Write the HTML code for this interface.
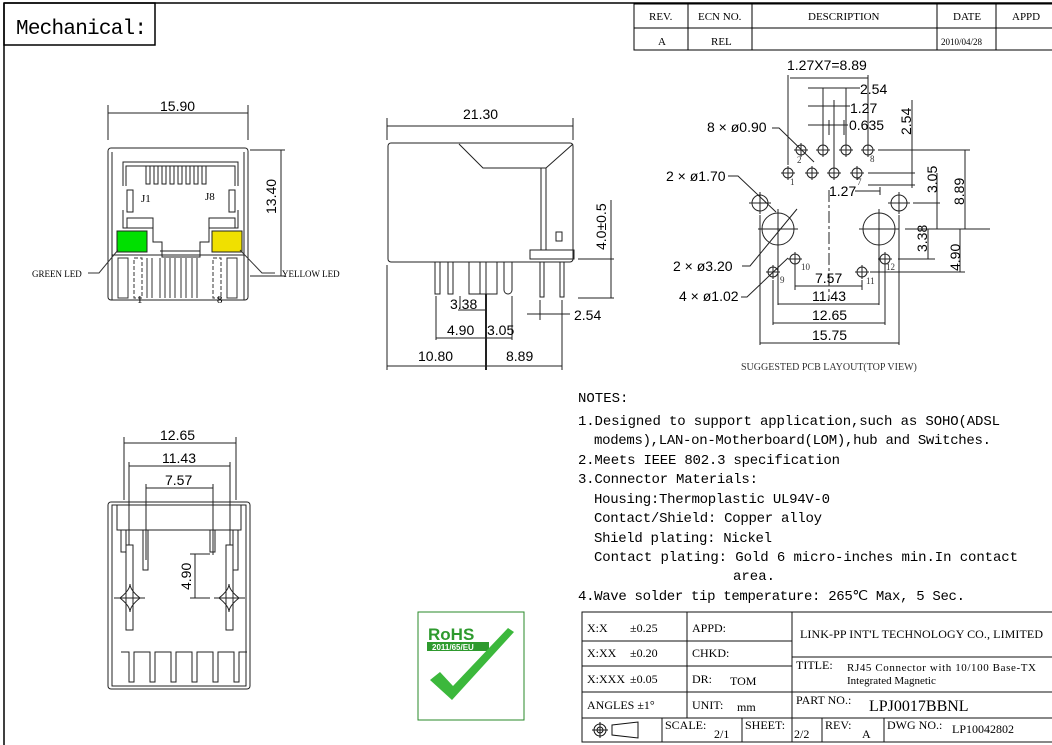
<!DOCTYPE html>
<html><head><meta charset="utf-8"><style>
body{margin:0;background:#fff;}
svg{display:block;}
</style></head><body>
<svg width="1052" height="745" viewBox="0 0 1052 745" xmlns="http://www.w3.org/2000/svg" stroke="#000" fill="none" stroke-width="1" font-family="Liberation Sans, sans-serif">
<!-- frame -->
<line x1="4" y1="3" x2="1052" y2="3" stroke-width="1.5"/>
<line x1="4" y1="3" x2="4" y2="745" stroke-width="1.5"/>
<rect x="4" y="3" width="151" height="42" stroke-width="1.5"/>
<text x="16" y="34" font-size="21" stroke="none" fill="#000" font-family="Liberation Mono, monospace" textLength="131">Mechanical:</text>
<!-- rev table -->
<rect x="634" y="4" width="420" height="46"/>
<line x1="634" y1="28" x2="1052" y2="28"/>
<line x1="688" y1="4" x2="688" y2="50"/><line x1="752" y1="4" x2="752" y2="50"/>
<line x1="937" y1="4" x2="937" y2="50"/><line x1="996" y1="4" x2="996" y2="50"/>
<g stroke="none" fill="#000" font-size="11" font-family="Liberation Serif, serif">
<text x="649" y="20">REV.</text><text x="698" y="20">ECN NO.</text><text x="808" y="20">DESCRIPTION</text><text x="953" y="20">DATE</text><text x="1012" y="20">APPD</text>
<text x="658" y="45">A</text><text x="711" y="45">REL</text><text x="941" y="45" font-size="9">2010/04/28</text>
</g>

<!-- FRONT VIEW -->
<g stroke="#222">
<line x1="108" y1="105" x2="108" y2="140"/><line x1="248" y1="105" x2="248" y2="140"/>
<line x1="108" y1="113" x2="248" y2="113"/>
<rect x="108" y="148" width="140" height="152" rx="3"/>
<line x1="112" y1="152" x2="112" y2="300"/><line x1="244" y1="152" x2="244" y2="300"/>
<line x1="250" y1="150" x2="285" y2="150"/><line x1="250" y1="276" x2="285" y2="276"/>
<line x1="281" y1="150" x2="281" y2="276"/>
<polyline points="123,186 123,162 238,162 238,186"/>
<polyline points="126,186 126,166 235,166 235,186"/>
<g>
<rect x="146" y="166" width="4" height="18"/><rect x="154" y="166" width="4" height="18"/><rect x="162" y="166" width="4" height="18"/><rect x="170" y="166" width="4" height="18"/>
<rect x="178" y="166" width="4" height="18"/><rect x="186" y="166" width="4" height="18"/><rect x="194" y="166" width="4" height="18"/><rect x="202" y="166" width="4" height="18"/>
</g>
<rect x="127" y="190" width="6" height="22"/><rect x="229" y="190" width="6" height="22"/>
<polyline points="123,210 123,228 153,228 153,242 162,242 162,257 200,257 200,242 209,242 209,228 238,228 238,210"/>
<rect x="127" y="218" width="26" height="10"/><rect x="209" y="218" width="26" height="10"/>
<line x1="112" y1="255" x2="244" y2="255"/>
<line x1="160" y1="251" x2="200" y2="251"/>
</g>
<rect x="117" y="231" width="30" height="21" fill="#00e000" stroke="#222"/>
<rect x="212" y="231" width="30" height="21" fill="#f0e000" stroke="#222"/>
<g stroke="#333">
<rect x="118" y="258" width="10" height="40"/><rect x="134" y="258" width="8" height="40" stroke-dasharray="4,2"/>
<line x1="147" y1="258" x2="147" y2="298"/><line x1="152" y1="258" x2="152" y2="298"/>
<line x1="160" y1="258" x2="160" y2="298"/><line x1="165" y1="258" x2="165" y2="298"/>
<line x1="170" y1="258" x2="170" y2="298"/><line x1="175" y1="258" x2="175" y2="298"/>
<line x1="181" y1="258" x2="181" y2="298"/><line x1="186" y1="258" x2="186" y2="298"/>
<line x1="192" y1="258" x2="192" y2="298"/><line x1="197" y1="258" x2="197" y2="298"/>
<rect x="213" y="258" width="8" height="40" stroke-dasharray="4,2"/><rect x="227" y="258" width="10" height="40"/>
<polyline points="88,273 99,273 118,250"/><polyline points="275,273 262,273 240,250"/>
</g>
<g stroke="none" fill="#000">
<text x="160" y="111" font-size="14">15.90</text>
<text transform="translate(276,214) rotate(-90)" font-size="14">13.40</text>
<g font-family="Liberation Serif, serif">
<text x="141" y="202" font-size="11">J1</text>
<text x="205" y="200" font-size="11">J8</text>
<text x="32" y="277" font-size="9">GREEN LED</text>
<text x="282" y="277" font-size="9">YELLOW LED</text>
<text x="137" y="303" font-size="11">1</text>
<text x="217" y="303" font-size="11">8</text>
</g>
</g>

<!-- SIDE VIEW -->
<g stroke="#222">
<line x1="387" y1="118" x2="387" y2="140"/><line x1="573" y1="118" x2="573" y2="140"/>
<line x1="387" y1="126" x2="573" y2="126"/>
<rect x="388" y="143" width="185" height="119" rx="3"/>
<polyline points="459,144 483,168 546,168 573,144"/>
<line x1="546" y1="168" x2="546" y2="250"/><line x1="541" y1="168" x2="541" y2="250"/>
<rect x="556" y="232" width="6" height="9"/>
<rect x="530" y="250" width="44" height="9"/>
<rect x="435" y="262" width="5" height="32"/><rect x="448" y="262" width="5" height="32"/>
<rect x="469" y="262" width="28" height="32"/><line x1="480" y1="262" x2="480" y2="294"/><line x1="486" y1="262" x2="486" y2="294"/>
<path d="M504,262 V290 A4,4 0 0 0 512,290 V262"/>
<rect x="540" y="262" width="4" height="35"/><rect x="560" y="262" width="4" height="35"/>
<line x1="578" y1="259" x2="614" y2="259"/><line x1="578" y1="298" x2="614" y2="298"/>
<line x1="611" y1="200" x2="611" y2="298"/>
<line x1="387" y1="265" x2="387" y2="370"/><line x1="562" y1="300" x2="562" y2="370"/>
<line x1="486" y1="294" x2="486" y2="370" stroke-width="2"/>
<line x1="460" y1="296" x2="460" y2="308"/>
<line x1="458" y1="310" x2="486" y2="310"/>
<line x1="436" y1="296" x2="436" y2="340"/><line x1="436" y1="338" x2="486" y2="338"/>
<line x1="512" y1="296" x2="512" y2="340"/><line x1="486" y1="338" x2="512" y2="338"/>
<line x1="387" y1="366" x2="562" y2="366"/>
<line x1="540" y1="300" x2="540" y2="320"/><line x1="527" y1="314" x2="570" y2="314"/>
</g>
<g stroke="none" fill="#000" font-size="14">
<text x="463" y="119">21.30</text>
<text transform="translate(606,250) rotate(-90)">4.0±0.5</text>
<text x="450" y="309">3.38</text>
<text x="447" y="335">4.90</text><text x="487" y="335">3.05</text>
<text x="574" y="320">2.54</text>
<text x="418" y="361">10.80</text><text x="506" y="361">8.89</text>
</g>

<!-- PCB LAYOUT -->
<g stroke="#222">
<line x1="788" y1="75" x2="788" y2="165"/><line x1="868" y1="75" x2="868" y2="145"/>
<line x1="790" y1="78" x2="868" y2="78"/>
<line x1="808" y1="88" x2="860" y2="88"/><line x1="823" y1="88" x2="823" y2="145"/><line x1="846" y1="88" x2="846" y2="145"/>
<line x1="808" y1="106" x2="850" y2="106"/><line x1="834" y1="100" x2="834" y2="170"/>
<line x1="808" y1="125" x2="848" y2="125"/><line x1="829" y1="120" x2="829" y2="135"/><line x1="844" y1="120" x2="844" y2="135"/>
<polyline points="772,128 779,128 814,162"/>
<polyline points="728,176 738,176 776,212"/>
<polyline points="742,266 750,266 797,209"/>
<polyline points="741,297 747,297 788,258"/>
<line x1="829" y1="190" x2="829" y2="300" stroke-dasharray="12,3,3,3"/>
<g>
<circle cx="788" cy="173" r="5"/><circle cx="801" cy="150" r="5"/><circle cx="812" cy="173" r="5"/><circle cx="823" cy="150" r="5"/>
<circle cx="834" cy="173" r="5"/><circle cx="846" cy="150" r="5"/><circle cx="857" cy="173" r="5"/><circle cx="868" cy="150" r="5"/>
<path d="M781,173h14M788,166v14M794,150h14M801,143v14M805,173h14M812,166v14M816,150h14M823,143v14M827,173h14M834,166v14M839,150h14M846,143v14M850,173h14M857,166v14M861,150h14M868,143v14"/>
<circle cx="760" cy="203" r="8"/><path d="M749,203h22M760,192v22"/>
<circle cx="899" cy="203" r="8"/><path d="M888,203h22M899,192v22"/>
<circle cx="778" cy="229" r="16"/><path d="M758,229h40M778,209v40"/>
<circle cx="879" cy="229" r="16"/><path d="M859,229h40M879,209v40"/>
<circle cx="773" cy="272" r="5"/><path d="M766,272h14M773,265v14"/>
<circle cx="795" cy="259" r="5"/><path d="M788,259h14M795,252v14"/>
<circle cx="862" cy="272" r="5"/><path d="M855,272h14M862,265v14"/>
<circle cx="885" cy="259" r="5"/><path d="M878,259h14M885,252v14"/>
</g>
<line x1="878" y1="150" x2="970" y2="150"/><line x1="868" y1="185" x2="915" y2="185"/>
<line x1="912" y1="100" x2="912" y2="188"/>
<line x1="868" y1="173" x2="915" y2="173"/>
<line x1="855" y1="191" x2="880" y2="191"/><line x1="880" y1="187" x2="880" y2="195"/>
<line x1="913" y1="203" x2="940" y2="203"/><line x1="937" y1="173" x2="937" y2="229"/>
<line x1="965" y1="150" x2="965" y2="229"/>
<line x1="905" y1="229" x2="990" y2="229"/>
<line x1="898" y1="259" x2="935" y2="259"/><line x1="928" y1="229" x2="928" y2="259"/>
<line x1="870" y1="272" x2="965" y2="272"/><line x1="960" y1="229" x2="960" y2="272"/>
<line x1="760" y1="215" x2="760" y2="345"/><line x1="899" y1="215" x2="899" y2="345"/>
<line x1="773" y1="280" x2="773" y2="325"/><line x1="885" y1="265" x2="885" y2="325"/>
<line x1="778" y1="248" x2="778" y2="305"/><line x1="879" y1="248" x2="879" y2="305"/>
<line x1="795" y1="265" x2="795" y2="290"/><line x1="862" y1="280" x2="862" y2="290"/>
<line x1="795" y1="286" x2="862" y2="286"/>
<line x1="778" y1="304" x2="879" y2="304"/>
<line x1="773" y1="323" x2="885" y2="323"/>
<line x1="760" y1="343" x2="899" y2="343"/>
</g>
<g stroke="none" fill="#000" font-size="14">
<text x="787" y="70">1.27X7=8.89</text>
<text x="860" y="94">2.54</text><text x="850" y="113">1.27</text><text x="849" y="130">0.635</text>
<text transform="translate(911,135) rotate(-90)">2.54</text>
<text transform="translate(937,193) rotate(-90)">3.05</text>
<text transform="translate(964,205) rotate(-90)">8.89</text>
<text transform="translate(927,252) rotate(-90)">3.38</text>
<text transform="translate(960,271) rotate(-90)">4.90</text>
<text x="829" y="196">1.27</text>
<text x="707" y="132">8 × ø0.90</text>
<text x="666" y="181">2 × ø1.70</text>
<text x="673" y="271">2 × ø3.20</text>
<text x="679" y="301">4 × ø1.02</text>
<text x="815" y="283">7.57</text><text x="812" y="301">11.43</text>
<text x="812" y="320">12.65</text><text x="812" y="340">15.75</text>
</g>
<g stroke="none" font-size="9" font-family="Liberation Serif, serif" fill="#333">
<text x="790" y="185">1</text><text x="797" y="163">2</text><text x="870" y="162">8</text><text x="857" y="185">7</text>
<text x="780" y="283">9</text><text x="801" y="270">10</text><text x="866" y="284">11</text><text x="886" y="270">12</text>
<text x="741" y="370" font-size="10">SUGGESTED PCB LAYOUT(TOP VIEW)</text>
</g>

<!-- BOTTOM VIEW -->
<g stroke="#222">
<line x1="124" y1="437" x2="124" y2="500"/><line x1="236" y1="437" x2="236" y2="500"/>
<line x1="124" y1="443" x2="236" y2="443"/>
<line x1="129" y1="462" x2="129" y2="545"/><line x1="230" y1="462" x2="230" y2="545"/>
<line x1="129" y1="466" x2="230" y2="466"/>
<line x1="146" y1="484" x2="146" y2="560"/><line x1="213" y1="484" x2="213" y2="555"/>
<line x1="146" y1="488" x2="213" y2="488"/>
<rect x="108" y="502" width="142" height="187" rx="3"/>
<rect x="112" y="505" width="134" height="181"/>
<rect x="117" y="505" width="124" height="25"/>
<rect x="121" y="530" width="5" height="22"/><rect x="143" y="530" width="5" height="40"/>
<rect x="210" y="530" width="5" height="22"/><rect x="233" y="530" width="5" height="40"/>
<rect x="126" y="545" width="7" height="85"/><rect x="226" y="545" width="7" height="85"/>
<path d="M120,598 q10,-8 10,-14 q0,6 10,14 q-10,8 -10,14 q0,-6 -10,-14z"/>
<path d="M219,598 q10,-8 10,-14 q0,6 10,14 q-10,8 -10,14 q0,-6 -10,-14z"/>
<line x1="114" y1="598" x2="145" y2="598"/><line x1="214" y1="598" x2="245" y2="598"/>
<line x1="190" y1="554" x2="210" y2="554"/><line x1="190" y1="598" x2="210" y2="598"/>
<line x1="195" y1="554" x2="195" y2="598"/>
<path d="M121,652 h8 v30 h5 v-30 h16 v30 h5 v-30 h16 v30 h5 v-30 h16 v30 h5 v-30 h16 v30 h5 v-30 h16 v30 h5 v-30 h8"/>
<line x1="117" y1="686" x2="241" y2="686"/>
</g>
<g stroke="none" fill="#000" font-size="14">
<text x="160" y="440">12.65</text><text x="162" y="463">11.43</text><text x="165" y="485">7.57</text>
<text transform="translate(191,590) rotate(-90)">4.90</text>
</g>

<!-- RoHS -->
<rect x="418" y="612" width="106" height="108" stroke="#2a8a2a"/>
<text x="428" y="640" font-size="17" font-weight="bold" fill="#2e9a2e" stroke="none">RoHS</text>
<rect x="427" y="642" width="62" height="9" fill="#2e9a2e" stroke="none"/>
<text x="432" y="650" font-size="8" fill="#fff" stroke="none" font-weight="bold">2011/65/EU</text>
<path d="M430,680 L452,700 L514,632 L508,628 L453,686 L440,672 Z" fill="#3cb83c" stroke="none"/>

<!-- NOTES -->
<g stroke="none" fill="#000" font-size="14" font-family="Liberation Mono, monospace">
<text x="578" y="402">NOTES:</text>
<text x="578" y="425" textLength="422">1.Designed to support application,such as SOHO(ADSL</text>
<text x="594" y="444" textLength="397">modems),LAN-on-Motherboard(LOM),hub and Switches.</text>
<text x="578" y="464" textLength="262">2.Meets IEEE 802.3 specification</text>
<text x="578" y="483" textLength="180">3.Connector Materials:</text>
<text x="594" y="503" textLength="236">Housing:Thermoplastic UL94V-0</text>
<text x="594" y="522" textLength="228">Contact/Shield: Copper alloy</text>
<text x="594" y="542" textLength="178">Shield plating: Nickel</text>
<text x="594" y="561" textLength="424">Contact plating: Gold 6 micro-inches  min.In contact</text>
<text x="733" y="580">area.</text>
<text x="578" y="600" textLength="387">4.Wave solder tip temperature: 265℃ Max, 5 Sec.</text>
</g>

<!-- TITLE BLOCK -->
<g stroke="#111">
<rect x="582" y="612" width="472" height="130"/>
<line x1="582" y1="641" x2="792" y2="641"/><line x1="582" y1="666" x2="792" y2="666"/>
<line x1="582" y1="692" x2="1052" y2="692"/><line x1="582" y1="718" x2="1052" y2="718"/>
<line x1="792" y1="657" x2="1052" y2="657"/>
<line x1="687" y1="612" x2="687" y2="718"/><line x1="792" y1="612" x2="792" y2="742"/>
<line x1="662" y1="718" x2="662" y2="742"/><line x1="742" y1="718" x2="742" y2="742"/>
<line x1="822" y1="718" x2="822" y2="742"/><line x1="884" y1="718" x2="884" y2="742"/>
<circle cx="600" cy="730" r="6"/><circle cx="600" cy="730" r="3"/><path d="M592,730h16M600,722v16"/>
<path d="M612,725 L638,722 L638,738 L612,735 Z"/>
</g>
<g stroke="none" fill="#000" font-size="12" font-family="Liberation Serif, serif">
<text x="587" y="632">X:X</text><text x="630" y="632">±0.25</text>
<text x="587" y="657">X:XX</text><text x="630" y="657">±0.20</text>
<text x="587" y="683">X:XXX</text><text x="630" y="683">±0.05</text>
<text x="587" y="709">ANGLES ±1°</text>
<text x="692" y="632">APPD:</text><text x="692" y="657">CHKD:</text>
<text x="692" y="683">DR:</text><text x="730" y="685">TOM</text>
<text x="692" y="709">UNIT:</text><text x="737" y="711">mm</text>
<text x="800" y="638" font-size="12" textLength="243">LINK-PP INT'L TECHNOLOGY CO., LIMITED</text>
<text x="796" y="669">TITLE:</text>
<text x="847" y="671" font-size="11" textLength="189">RJ45 Connector with 10/100 Base-TX</text>
<text x="847" y="684" font-size="11">Integrated Magnetic</text>
<text x="796" y="704">PART NO.:</text>
<text x="869" y="711" font-size="16">LPJ0017BBNL</text>
<text x="665" y="729">SCALE:</text><text x="714" y="738">2/1</text>
<text x="745" y="729">SHEET:</text><text x="794" y="738">2/2</text>
<text x="825" y="729">REV:</text><text x="862" y="738">A</text>
<text x="887" y="729">DWG NO.:</text><text x="952" y="733">LP10042802</text>
</g>
</svg>
</body></html>
